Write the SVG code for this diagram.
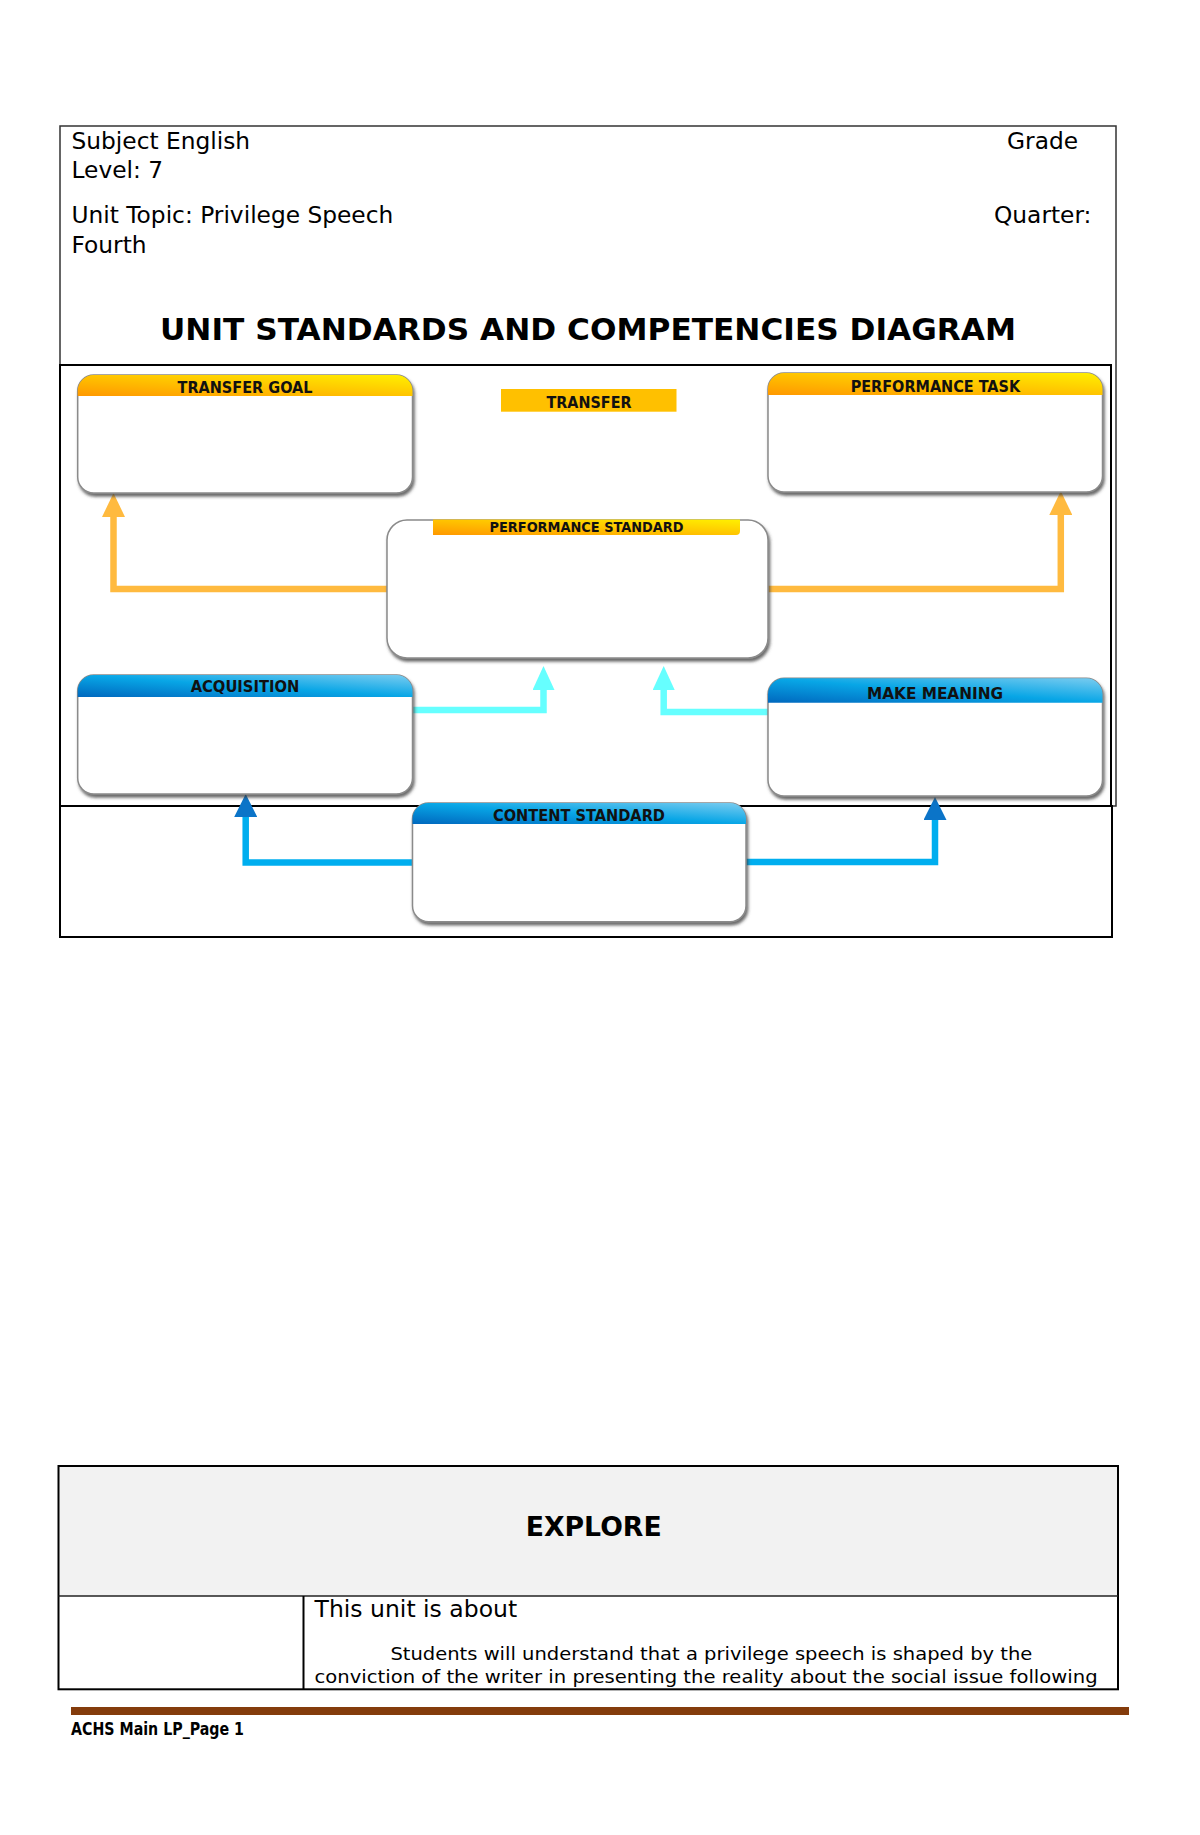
<svg xmlns="http://www.w3.org/2000/svg" width="1200" height="1835" viewBox="0 0 1200 1835">
<defs>
<style>
.doc{font-family:"DejaVu Sans","Verdana",sans-serif;fill:#000}
.lbl{font-family:"DejaVu Sans Condensed","DejaVu Sans",sans-serif;font-weight:bold;fill:#111;text-anchor:middle}
.body{fill:#fff;stroke:#8a8a8a;stroke-width:1.5}
.frame{fill:none;stroke:#000;stroke-width:2}
.conn{fill:none;stroke-width:6.5;stroke-linejoin:miter}
</style>
<linearGradient id="gOrange" x1="0" y1="1" x2="1" y2="0">
<stop offset="0" stop-color="#FF9800"/>
<stop offset="0.5" stop-color="#FFC400"/>
<stop offset="1" stop-color="#FFF000"/>
</linearGradient>
<linearGradient id="gBlue" x1="0" y1="1" x2="1" y2="0">
<stop offset="0" stop-color="#0068BE"/>
<stop offset="0.5" stop-color="#08A6E6"/>
<stop offset="1" stop-color="#7ACCF0"/>
</linearGradient>
<filter id="shadow" x="-5%" y="-5%" width="112%" height="120%">
<feDropShadow dx="1.5" dy="3" stdDeviation="1.5" flood-color="#3a3a3a" flood-opacity="0.75"/>
</filter>
<marker id="ahYellow" markerUnits="userSpaceOnUse" markerWidth="24" markerHeight="23" viewBox="0 0 24 23" refX="0" refY="11.5" orient="auto">
<path d="M0,0 L24,11.5 L0,23 Z" fill="#FFBA3F"/>
</marker>
<marker id="ahCyan" markerUnits="userSpaceOnUse" markerWidth="24" markerHeight="22" viewBox="0 0 24 22" refX="0" refY="11" orient="auto">
<path d="M0,0 L24,11 L0,22 Z" fill="#66FFFF"/>
</marker>
<marker id="ahBlue" markerUnits="userSpaceOnUse" markerWidth="23" markerHeight="23" viewBox="0 0 23 23" refX="0" refY="11.5" orient="auto">
<path d="M0,0 L23,11.5 L0,23 Z" fill="#0B74C8"/>
</marker>
</defs>

<rect width="1200" height="1835" fill="#fff"/>

<!-- header table -->
<g id="header-table">
<rect x="60" y="126" width="1056" height="680" fill="none" stroke="#333" stroke-width="1.5"/>
<text class="doc" x="71.5" y="148.5" font-size="23.3">Subject English</text>
<text class="doc" x="1007" y="148.5" font-size="23.3">Grade</text>
<text class="doc" x="71.5" y="177.7" font-size="23.3">Level: 7</text>
<text class="doc" x="71.5" y="223.3" font-size="23.3">Unit Topic: Privilege Speech</text>
<text class="doc" x="994" y="223.3" font-size="23.3">Quarter:</text>
<text class="doc" x="71.5" y="252.7" font-size="23.3">Fourth</text>
<text class="doc" x="160" y="340" font-size="31" font-weight="bold" textLength="856" lengthAdjust="spacingAndGlyphs">UNIT STANDARDS AND COMPETENCIES DIAGRAM</text>
</g>

<!-- diagram frames -->
<g id="diagram-frame">
<rect class="frame" x="60" y="365" width="1051" height="441"/>
<rect class="frame" x="60" y="806" width="1052" height="131"/>
</g>

<!-- connectors -->
<g id="connectors">
<path class="conn" d="M387,589 H113.5 V517" stroke="#FFBA3F" marker-end="url(#ahYellow)"/>
<path class="conn" d="M768,589 H1060.8 V515" stroke="#FFBA3F" marker-end="url(#ahYellow)"/>
<path class="conn" d="M412.5,710 H543.5 V690" stroke="#66FFFF" marker-end="url(#ahCyan)"/>
<path class="conn" d="M768,712 H663.7 V690" stroke="#66FFFF" marker-end="url(#ahCyan)"/>
<path class="conn" d="M412.5,862.5 H245.7 V817" stroke="#00AEEF" marker-end="url(#ahBlue)"/>
<path class="conn" d="M746,862 H935 V820" stroke="#00AEEF" marker-end="url(#ahBlue)"/>
</g>

<!-- nodes -->
<g id="transfer-goal">
<rect class="body" x="77.7" y="375" width="334.8" height="118" rx="16" filter="url(#shadow)"/>
<path d="M77.7,396 V391 A16,16 0 0 1 93.7,375 H396.5 A16,16 0 0 1 412.5,391 V396 Z" fill="url(#gOrange)"/>
<text class="lbl" x="245" y="393" font-size="16" textLength="135" lengthAdjust="spacingAndGlyphs">TRANSFER GOAL</text>
</g>

<g id="transfer">
<rect x="501" y="389" width="175.5" height="22.7" fill="#FFC000"/>
<text class="lbl" x="589" y="408" font-size="16" textLength="85" lengthAdjust="spacingAndGlyphs">TRANSFER</text>
</g>

<g id="performance-task">
<rect class="body" x="768" y="373" width="334.5" height="119" rx="16" filter="url(#shadow)"/>
<path d="M768,395 V389 A16,16 0 0 1 784,373 H1086.5 A16,16 0 0 1 1102.5,389 V395 Z" fill="url(#gOrange)"/>
<text class="lbl" x="935.4" y="391.7" font-size="16" textLength="169.5" lengthAdjust="spacingAndGlyphs">PERFORMANCE TASK</text>
</g>

<g id="performance-standard">
<rect class="body" x="387" y="520" width="381" height="138" rx="20" filter="url(#shadow)"/>
<path d="M433,519.5 H740 V531 A4,4 0 0 1 736,535 H433 Z" fill="url(#gOrange)"/>
<text class="lbl" x="586.5" y="532" font-size="14.5" textLength="194" lengthAdjust="spacingAndGlyphs">PERFORMANCE STANDARD</text>
</g>

<g id="acquisition">
<rect class="body" x="77.7" y="675" width="334.8" height="119" rx="16" filter="url(#shadow)"/>
<path d="M77.7,697 V691 A16,16 0 0 1 93.7,675 H396.5 A16,16 0 0 1 412.5,691 V697 Z" fill="url(#gBlue)"/>
<text class="lbl" x="245" y="692" font-size="16.5" textLength="108.7" lengthAdjust="spacingAndGlyphs">ACQUISITION</text>
</g>

<g id="make-meaning">
<rect class="body" x="768" y="678.3" width="334.5" height="117.7" rx="16" filter="url(#shadow)"/>
<path d="M768,702.7 V694.3 A16,16 0 0 1 784,678.3 H1086.5 A16,16 0 0 1 1102.5,694.3 V702.7 Z" fill="url(#gBlue)"/>
<text class="lbl" x="935" y="699" font-size="16.5" textLength="136" lengthAdjust="spacingAndGlyphs">MAKE MEANING</text>
</g>

<g id="content-standard">
<rect class="body" x="412.5" y="803" width="333.5" height="118.7" rx="16" filter="url(#shadow)"/>
<path d="M412.5,824 V819 A16,16 0 0 1 428.5,803 H730 A16,16 0 0 1 746,819 V824 Z" fill="url(#gBlue)"/>
<text class="lbl" x="579" y="821" font-size="16.5" textLength="172" lengthAdjust="spacingAndGlyphs">CONTENT STANDARD</text>
</g>

<!-- explore table -->
<g id="explore-table">
<rect x="58.5" y="1466" width="1059.5" height="130" fill="#F2F2F2"/>
<rect x="58.5" y="1466" width="1059.5" height="223.3" fill="none" stroke="#000" stroke-width="2"/>
<line x1="58.5" y1="1596" x2="1118" y2="1596" stroke="#222" stroke-width="1.5"/>
<line x1="303.5" y1="1596" x2="303.5" y2="1689.3" stroke="#000" stroke-width="2"/>
<text class="doc" x="593.7" y="1536" font-size="26.7" font-weight="bold" text-anchor="middle">EXPLORE</text>
<text class="doc" x="314.6" y="1616.7" font-size="23.5">This unit is about</text>
<text class="doc" x="390.4" y="1660" font-size="18" textLength="642" lengthAdjust="spacingAndGlyphs">Students will understand that a privilege speech is shaped by the</text>
<text class="doc" x="314.6" y="1683" font-size="18" textLength="783" lengthAdjust="spacingAndGlyphs">conviction of the writer in presenting the reality about the social issue following</text>
</g>

<!-- footer -->
<g id="footer">
<rect x="71" y="1707" width="1058" height="8" fill="#843C0C"/>
<text class="doc" x="71" y="1735" font-size="18" font-weight="bold" font-family="DejaVu Sans Condensed, DejaVu Sans, sans-serif" textLength="173" lengthAdjust="spacingAndGlyphs">ACHS Main LP_Page 1</text>
</g>
</svg>
